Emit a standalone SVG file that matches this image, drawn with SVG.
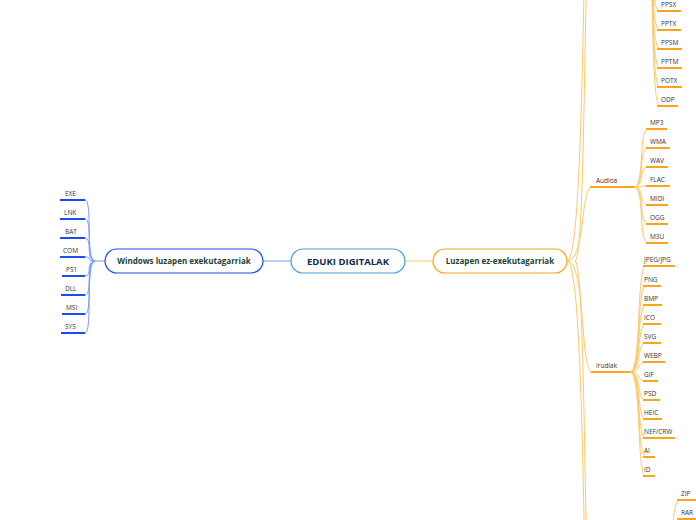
<svg xmlns="http://www.w3.org/2000/svg" width="696" height="520" viewBox="0 0 696 520">
<style>
text{font-family:"Open Sans","Liberation Sans",sans-serif;}
.lf{font-size:6.5px;fill:#333;}
.ol{fill:none;stroke:#FFC866;stroke-width:1;}
.ou{stroke:#FFA31A;stroke-width:2;}
.bl{fill:none;stroke:#7C9CFF;stroke-width:1;}
.bu{stroke:#1A4CF0;stroke-width:2;}
</style>
<rect width="696" height="520" fill="#fff"/>
<g id="connectors">
<path class="bl" d="M263,261 H291" stroke-width="2"/>
<path class="ol" d="M405,261 H433" stroke="#FFA31A" stroke-width="2"/>
<path class="bl" d="M105,261 H95"/>
<path class="bl" d="M95,261 C85,261 93,200 85,200"/>
<path class="bl" d="M95,261 C85,261 93,219 85,219"/>
<path class="bl" d="M95,261 C85,261 93,238 85,238"/>
<path class="bl" d="M95,261 C85,261 93,257 85,257"/>
<path class="bl" d="M95,261 C85,261 93,276 85,276"/>
<path class="bl" d="M95,261 C85,261 93,295 85,295"/>
<path class="bl" d="M95,261 C85,261 93,314 85,314"/>
<path class="bl" d="M95,261 C85,261 93,333 85,333"/>
<path class="ol" d="M567,261 C586,261 582,-150 590,-150"/>
<path class="ol" d="M567,261 C586,261 580,187 592,187"/>
<path class="ol" d="M567,261 C586,261 580,372 592,372"/>
<path class="ol" d="M567,261 C586,261 582,650 590,650"/>
<path class="ol" d="M575,261 C586,261 584,-80 590,-80"/>
<path class="ol" d="M575,261 C586,261 584,600 590,600"/>
<g id="ppt-lines">
<path class="ol" d="M648,-40 C655,-40 650,11 660,11"/>
<path class="ol" d="M648,-40 C655,-40 650,30 660,30"/>
<path class="ol" d="M648,-40 C655,-40 650,49 660,49"/>
<path class="ol" d="M648,-40 C655,-40 650,68 660,68"/>
<path class="ol" d="M648,-40 C655,-40 650,87 660,87"/>
<path class="ol" d="M648,-40 C655,-40 650,106 660,106"/>
</g>
<g id="audio-lines">
<path class="ol" d="M634,187 C645,187 638,129 648,129"/>
<path class="ol" d="M634,187 C645,187 638,148 648,148"/>
<path class="ol" d="M634,187 C645,187 638,167 648,167"/>
<path class="ol" d="M634,187 C645,187 638,186 648,186"/>
<path class="ol" d="M634,187 C645,187 638,205 648,205"/>
<path class="ol" d="M634,187 C645,187 638,224 648,224"/>
<path class="ol" d="M634,187 C645,187 638,243 648,243"/>
</g>
<g id="img-lines">
<path class="ol" d="M630,372 C642,372 636,266 646,266"/>
<path class="ol" d="M630,372 C642,372 636,286 646,286"/>
<path class="ol" d="M630,372 C642,372 636,305 646,305"/>
<path class="ol" d="M630,372 C642,372 636,324 646,324"/>
<path class="ol" d="M630,372 C642,372 636,343 646,343"/>
<path class="ol" d="M630,372 C642,372 636,362 646,362"/>
<path class="ol" d="M630,372 C642,372 636,381 646,381"/>
<path class="ol" d="M630,372 C642,372 636,400 646,400"/>
<path class="ol" d="M630,372 C642,372 636,419 646,419"/>
<path class="ol" d="M630,372 C642,372 636,438 646,438"/>
<path class="ol" d="M630,372 C642,372 636,457 646,457"/>
<path class="ol" d="M630,372 C642,372 636,476 646,476"/>
</g>
<path class="ol" d="M668,560 C674,560 670,500 680,500"/>
<path class="ol" d="M668,560 C674,560 670,519 680,519"/>
</g>
<g id="center"><rect x="291" y="249" width="114" height="24" rx="12" fill="#fff" stroke="#4A9FE0" stroke-width="1.2"/><text x="348" y="264.5" text-anchor="middle" font-size="9.5" font-weight="bold" fill="#0E2A4A">EDUKI DIGITALAK</text></g>
<g id="windows"><rect x="105" y="249" width="158" height="24" rx="12" fill="#fff" stroke="#1A4CF0" stroke-width="1.2"/><text x="184" y="264" text-anchor="middle" font-size="8" font-weight="bold" fill="#1B4332">Windows luzapen exekutagarriak</text></g>
<g id="luzapen"><rect x="433" y="249" width="134" height="24" rx="12" fill="#fff" stroke="#FFA31A" stroke-width="1.2"/><text x="500" y="264" text-anchor="middle" font-size="8" font-weight="bold" fill="#1B4332">Luzapen ez-exekutagarriak</text></g>
<g id="win-leaves">
<g id="exe"><text class="lf" x="65" y="196">EXE</text><line class="bu" x1="60" y1="200" x2="85" y2="200"/></g>
<g id="lnk"><text class="lf" x="64" y="215">LNK</text><line class="bu" x1="60" y1="219" x2="85" y2="219"/></g>
<g id="bat"><text class="lf" x="65" y="234">BAT</text><line class="bu" x1="60" y1="238" x2="85" y2="238"/></g>
<g id="com"><text class="lf" x="63" y="253">COM</text><line class="bu" x1="60" y1="257" x2="85" y2="257"/></g>
<g id="ps1"><text class="lf" x="66" y="272">PS1</text><line class="bu" x1="62" y1="276" x2="85" y2="276"/></g>
<g id="dll"><text class="lf" x="65" y="291">DLL</text><line class="bu" x1="61" y1="295" x2="85" y2="295"/></g>
<g id="msi"><text class="lf" x="66" y="310">MSI</text><line class="bu" x1="62" y1="314" x2="85" y2="314"/></g>
<g id="sys"><text class="lf" x="65" y="329">SYS</text><line class="bu" x1="61" y1="333" x2="85" y2="333"/></g>
</g>
<g id="ppt-leaves">
<g id="ppsx"><text class="lf" x="661" y="7">PPSX</text><line class="ou" x1="657" y1="11" x2="681" y2="11"/></g>
<g id="pptx"><text class="lf" x="661" y="26">PPTX</text><line class="ou" x1="657" y1="30" x2="681" y2="30"/></g>
<g id="ppsm"><text class="lf" x="661" y="45">PPSM</text><line class="ou" x1="657" y1="49" x2="682" y2="49"/></g>
<g id="pptm"><text class="lf" x="661" y="64">PPTM</text><line class="ou" x1="657" y1="68" x2="682" y2="68"/></g>
<g id="potx"><text class="lf" x="661" y="83">POTX</text><line class="ou" x1="657" y1="87" x2="682" y2="87"/></g>
<g id="odp"><text class="lf" x="661" y="102">ODP</text><line class="ou" x1="657" y1="106" x2="678" y2="106"/></g>
</g>
<g id="audioa"><text class="lf" x="596" y="183">Audioa</text><line class="ou" x1="590" y1="187" x2="634" y2="187"/></g>
<g id="audio-leaves">
<g><text class="lf" x="650" y="125">MP3</text><line class="ou" x1="646" y1="129" x2="667" y2="129"/></g>
<g><text class="lf" x="650" y="144">WMA</text><line class="ou" x1="646" y1="148" x2="670" y2="148"/></g>
<g><text class="lf" x="650" y="163">WAV</text><line class="ou" x1="646" y1="167" x2="668" y2="167"/></g>
<g><text class="lf" x="650" y="182">FLAC</text><line class="ou" x1="646" y1="186" x2="670" y2="186"/></g>
<g><text class="lf" x="650" y="201">MIDI</text><line class="ou" x1="646" y1="205" x2="668" y2="205"/></g>
<g><text class="lf" x="650" y="220">OGG</text><line class="ou" x1="646" y1="224" x2="668" y2="224"/></g>
<g><text class="lf" x="650" y="239">M3U</text><line class="ou" x1="646" y1="243" x2="668" y2="243"/></g>
</g>
<g id="irudiak"><text class="lf" x="596" y="368">Irudiak</text><line class="ou" x1="591" y1="372" x2="630" y2="372"/></g>
<g id="img-leaves">
<g><text class="lf" x="644" y="262">JPEG/JPG</text><line class="ou" x1="643" y1="266" x2="675" y2="266"/></g>
<g><text class="lf" x="644" y="282">PNG</text><line class="ou" x1="643" y1="286" x2="661" y2="286"/></g>
<g><text class="lf" x="644" y="301">BMP</text><line class="ou" x1="643" y1="305" x2="662" y2="305"/></g>
<g><text class="lf" x="644" y="320">ICO</text><line class="ou" x1="643" y1="324" x2="661" y2="324"/></g>
<g><text class="lf" x="644" y="339">SVG</text><line class="ou" x1="643" y1="343" x2="661" y2="343"/></g>
<g><text class="lf" x="644" y="358">WEBP</text><line class="ou" x1="643" y1="362" x2="665" y2="362"/></g>
<g><text class="lf" x="644" y="377">GIF</text><line class="ou" x1="643" y1="381" x2="658" y2="381"/></g>
<g><text class="lf" x="644" y="396">PSD</text><line class="ou" x1="643" y1="400" x2="660" y2="400"/></g>
<g><text class="lf" x="644" y="415">HEIC</text><line class="ou" x1="643" y1="419" x2="662" y2="419"/></g>
<g><text class="lf" x="644" y="434">NEF/CRW</text><line class="ou" x1="643" y1="438" x2="675" y2="438"/></g>
<g><text class="lf" x="644" y="453">AI</text><line class="ou" x1="643" y1="457" x2="655" y2="457"/></g>
<g><text class="lf" x="644" y="472">ID</text><line class="ou" x1="643" y1="476" x2="655" y2="476"/></g>
</g>
<g id="zip-leaves">
<g><text class="lf" x="681" y="496">ZIP</text><line class="ou" x1="677" y1="500" x2="696" y2="500"/></g>
<g><text class="lf" x="681" y="515">RAR</text><line class="ou" x1="677" y1="519" x2="696" y2="519"/></g>
</g>
</svg>
